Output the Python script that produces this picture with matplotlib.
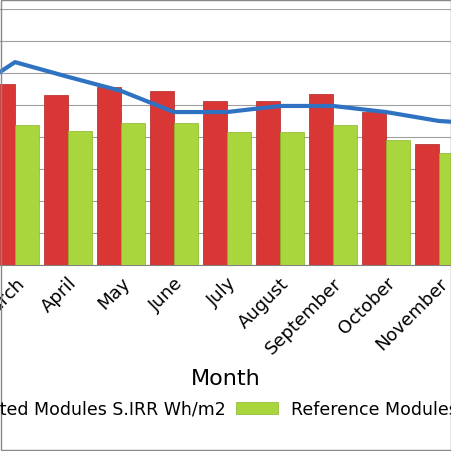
import numpy as np
import matplotlib.pyplot as plt

months = ['January', 'February', 'March', 'April', 'May', 'June', 'July',
          'August', 'September', 'October', 'November', 'December']
tested = [4.9, 5.1, 5.66, 5.31, 5.56, 5.44, 5.13, 5.13, 5.34, 4.78, 3.78, 3.9]
reference = [3.9, 4.1, 4.38, 4.19, 4.44, 4.44, 4.16, 4.16, 4.38, 3.91, 3.5, 3.4]
irradiance = [5.0, 5.25, 6.34, 5.88, 5.44, 4.78, 4.78, 4.97, 4.97, 4.78, 4.5, 4.4]

fig = plt.figure(figsize=(4.52, 4.52), dpi=100)
ax = fig.add_axes([0, 186 / 452, 1, 256 / 452])
x = np.arange(len(months))
w = 0.46
b1 = ax.bar(x - w / 2, tested, w, color='#d93636', edgecolor='#b02525', lw=0.5,
            label='Tested Modules S.IRR Wh/m2', zorder=3)
b2 = ax.bar(x + w / 2, reference, w, color='#a8d63c', edgecolor='#8ab52a', lw=0.5,
            label='Reference Modules S.IRR  Wh/m2', zorder=3)
ax.plot(x, irradiance, color='#2f72c2', lw=3, zorder=4)

ax.set_yticks(np.arange(0, 9))
ax.yaxis.grid(True, color='#a0a0a0', lw=0.8, zorder=0)
ax.set_xticks(x)
ax.set_xticklabels(months, rotation=45, ha='right', rotation_mode='anchor', fontsize=13)
ax.set_xlim(1.717, 10.245)
ax.set_ylim(0, 8)
ax.tick_params(axis='x', length=0, pad=6)
ax.tick_params(axis='y', length=0)
ax.set_xlabel('Month', fontsize=16, labelpad=8)
for s in ['top', 'right', 'left']:
    ax.spines[s].set_visible(False)
ax.spines['bottom'].set_color('#808080')

fig.legend(handles=[b1, b2], loc='center left', bbox_to_anchor=(-0.22, 0.093), ncol=2,
           frameon=False, fontsize=12.5, handlelength=2.4, columnspacing=0.6)
fig.patches.append(plt.Rectangle((0.002, 0.002), 0.996, 0.996, transform=fig.transFigure,
                                 fill=False, edgecolor='#888888', lw=1))
fig.savefig('out.png', dpi=100)
